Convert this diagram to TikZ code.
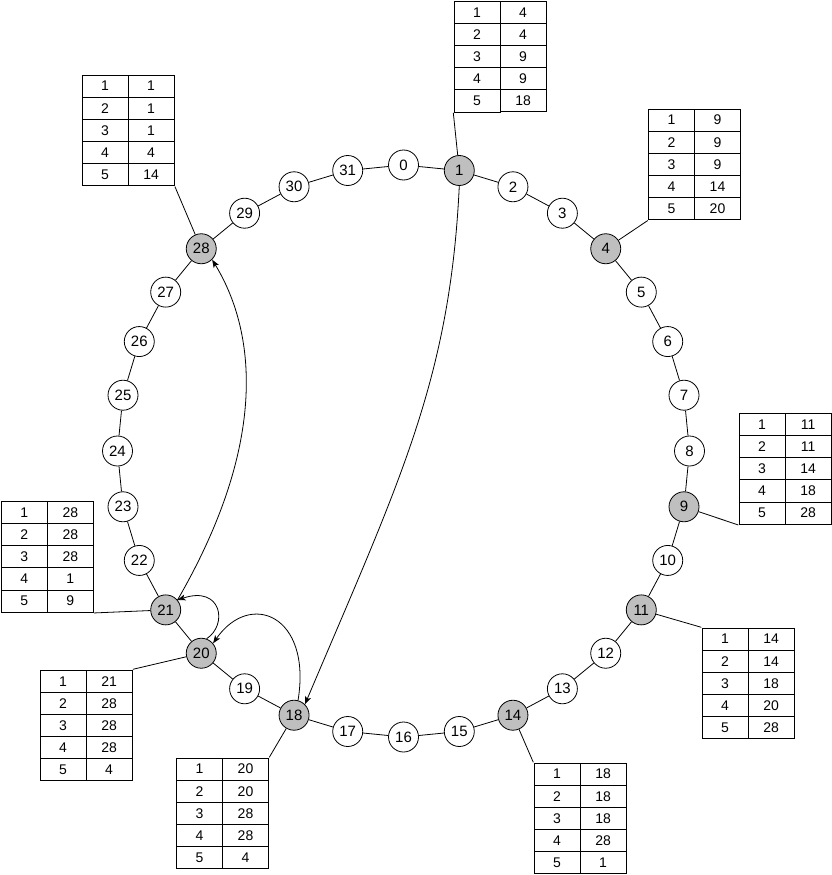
\documentclass[tikz,border=0pt]{standalone}
\usepackage{fontspec}
\setmainfont{Liberation Sans}
\usepackage{tikz}
\usetikzlibrary{matrix,arrows.meta}

\begin{document}
\begin{tikzpicture}[x=1pt,y=-1pt,line width=0.8pt,
    ringnode/.style={draw, circle, minimum size=30pt, inner sep=0,
        fill=white, font=\fontsize{15}{18}\selectfont},
    keynode/.style={ringnode, fill=black!25},
    fingertab/.style={matrix of nodes, anchor=north west, inner sep=0,
        column sep=-0.8pt, row sep=-0.8pt,
        nodes={draw, minimum width=46pt, minimum height=22.1pt, inner sep=0,
        font=\fontsize{14}{16}\selectfont}},
    arr/.style={-{Stealth[length=8pt,width=6pt,inset=2pt]}}]
\useasboundingbox (0,0) rectangle (832,875);

% Ring nodes
\foreach \i in {0,2,3,5,6,7,8,10,12,13,15,16,17,19,22,23,24,25,26,27,29,30,31}
    \node[ringnode] (n\i) at ({403.5+286*cos(90-11.25*\i)}, {451-286*sin(90-11.25*\i)}) {\i};
\foreach \i in {1,4,9,11,14,18,20,21,28}
    \node[keynode] (n\i) at ({403.5+286*cos(90-11.25*\i)}, {451-286*sin(90-11.25*\i)}) {\i};

% Ring links
\foreach \i [evaluate=\i as \j using {int(mod(\i+1,32))}] in {0,...,31}
    \draw (n\i) -- (n\j);

% Finger tables
\matrix[fingertab] (t1) at (453.3,0.5) {
    1 & 4 \\ 2 & 4 \\ 3 & 9 \\ 4 & 9 \\ 5 & 18 \\};
\matrix[fingertab] (t4) at (647.7,108.3) {
    1 & 9 \\ 2 & 9 \\ 3 & 9 \\ 4 & 14 \\ 5 & 20 \\};
\matrix[fingertab] (t9) at (738.3,412.7) {
    1 & 11 \\ 2 & 11 \\ 3 & 14 \\ 4 & 18 \\ 5 & 28 \\};
\matrix[fingertab] (t11) at (701.3,627.3) {
    1 & 14 \\ 2 & 14 \\ 3 & 18 \\ 4 & 20 \\ 5 & 28 \\};
\matrix[fingertab] (t14) at (533.3,762.3) {
    1 & 18 \\ 2 & 18 \\ 3 & 18 \\ 4 & 28 \\ 5 & 1 \\};
\matrix[fingertab] (t18) at (175.7,757.3) {
    1 & 20 \\ 2 & 20 \\ 3 & 28 \\ 4 & 28 \\ 5 & 4 \\};
\matrix[fingertab] (t20) at (39.3,669.3) {
    1 & 21 \\ 2 & 28 \\ 3 & 28 \\ 4 & 28 \\ 5 & 4 \\};
\matrix[fingertab] (t21) at (0.5,500.7) {
    1 & 28 \\ 2 & 28 \\ 3 & 28 \\ 4 & 1 \\ 5 & 9 \\};
\matrix[fingertab] (t28) at (81.3,74.3) {
    1 & 1 \\ 2 & 1 \\ 3 & 1 \\ 4 & 4 \\ 5 & 14 \\};

% Table links
\draw (t1.south west) -- (n1);
\draw (t4.south west) -- (n4);
\draw (n9) -- (t9.south west);
\draw (n11) -- (t11.north west);
\draw (n14) -- (t14.north west);
\draw (n18) -- (t18.north east);
\draw (t20.north east) -- (n20);
\draw (t21.south east) -- (n21);
\draw (t28.south east) -- (n28);

% Lookups
\draw[arr] (n1.south) .. controls (450,380) and (400,480) .. (n18.45);
\draw[arr, {Stealth[length=8pt,width=6pt,inset=2pt]}-] (n28.-45)
    .. controls (255,330) and (270,440) .. (n21.40);
\draw[arr] (n20.70) .. controls (228,625) and (222,585) .. (n21.40);
\draw[arr] (n18.75) .. controls (312,615) and (250,590) .. (n20.40);

\end{tikzpicture}
\end{document}
